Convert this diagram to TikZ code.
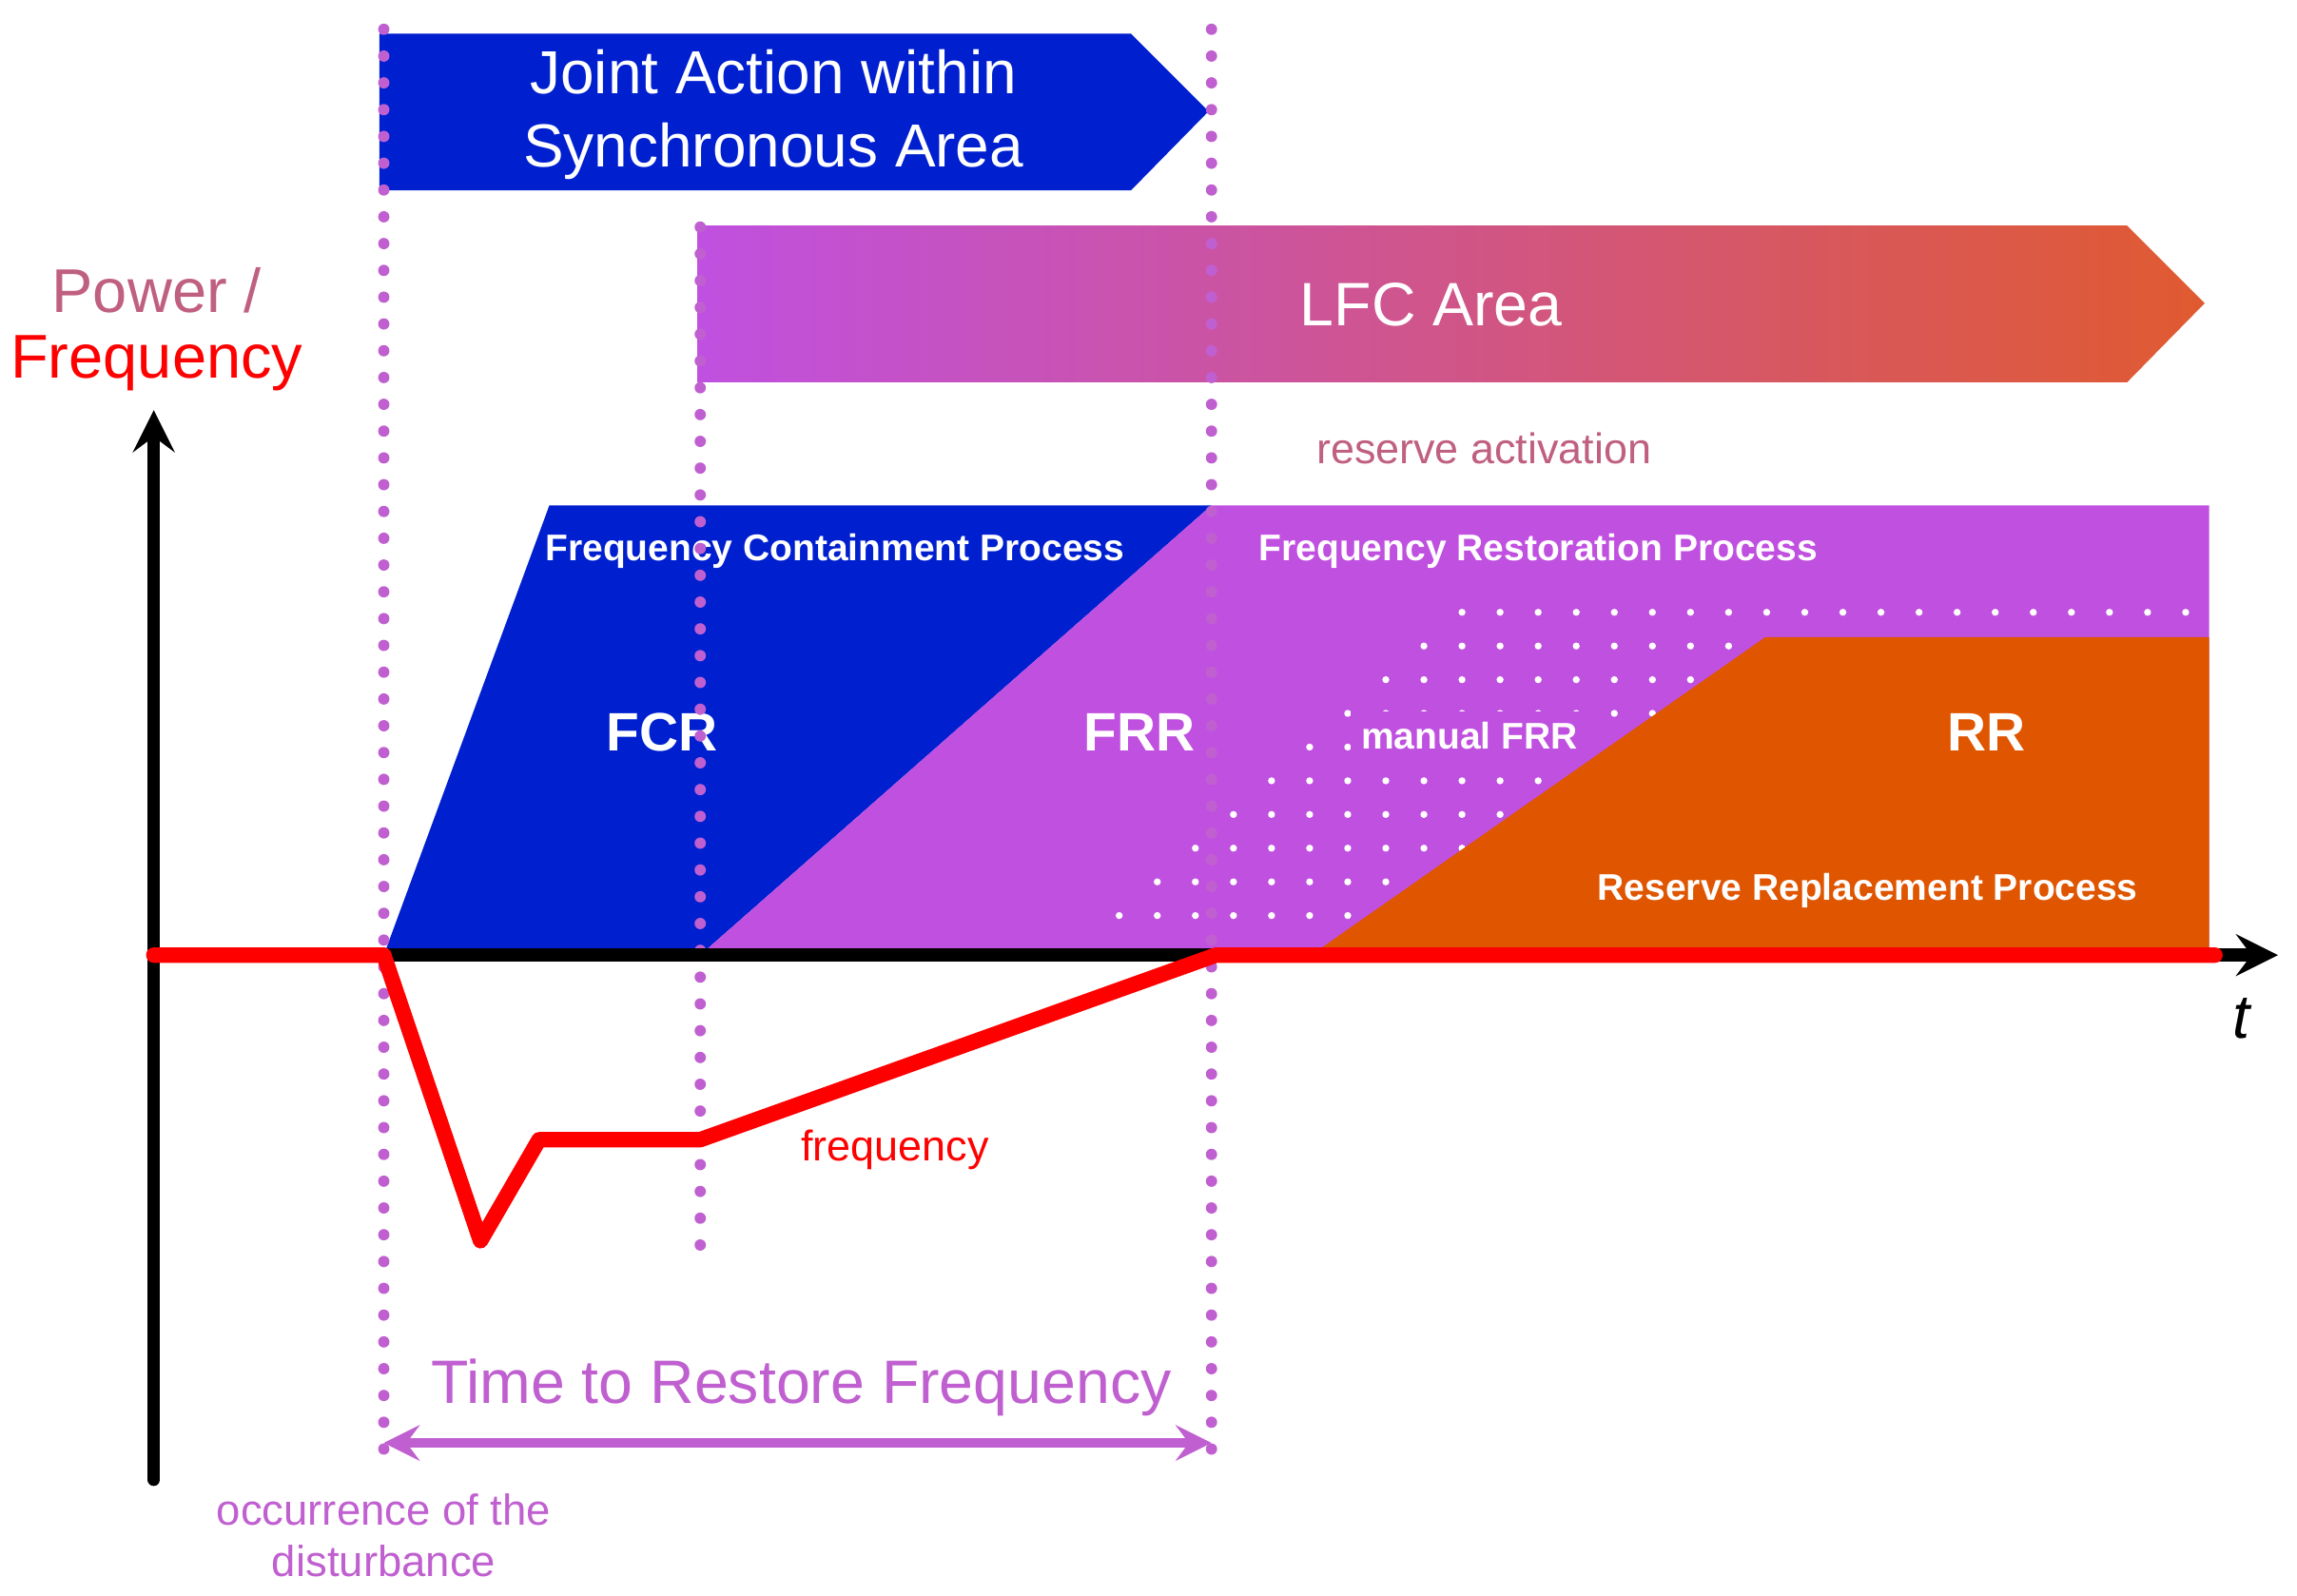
\documentclass[tikz,border=0pt]{standalone}
\usepackage{fontspec}
\setmainfont{Liberation Sans}
\usetikzlibrary{arrows}
\definecolor{jointblue}{HTML}{0020D0}
\definecolor{frrviolet}{HTML}{C050E0}
\definecolor{rrorange}{HTML}{E05500}
\definecolor{lfcorange}{HTML}{E05A30}
\definecolor{dotviolet}{HTML}{C060D0}
\definecolor{powerpink}{HTML}{C06080}
\tikzset{
  marker/.style={dotviolet, line width=2.2pt, dash pattern=on 0pt off 5.2pt, line cap=round},
  boxtext/.style={text=white, font=\bfseries\fontsize{7.2}{9}\selectfont},
  bigtext/.style={text=white, font=\bfseries\fontsize{10.5}{13}\selectfont},
  freq/.style={red, line width=3pt, line join=round}
}
\begin{document}
\begin{tikzpicture}[line cap=round,line join=round,>=stealth,x=0.01cm,y=-0.01cm]
	\useasboundingbox (0,0) rectangle (1568,1089);

	%Lohkot ylhaalla
	\fill[jointblue] (259,23)--(772,23)--(825,76)--(772,130)--(259,130)--cycle;
	\node[text=white, align=center, font=\fontsize{11.8}{14.2}\selectfont] (joint) at (528,78) {Joint Action within\\Synchronous Area};
	\shade[left color=frrviolet, right color=lfcorange] (476,154)--(1452,154)--(1505,207)--(1452,261)--(476,261)--cycle;
	\node[text=white, font=\fontsize{11.9}{14}\selectfont] (lfc) at (977,208) {LFC Area};

	%prosessit
	\fill[jointblue] (262,652)--(375,345)--(827,345)--(478,652)--cycle;
	\fill[frrviolet] (478,652)--(827,345)--(1508,345)--(1508,652)--cycle;
	\begin{scope}
		\clip (722,652)--(990,412)--(1508,412)--(1508,652)--cycle;
		\foreach \x in {738,764,...,1508}
		\foreach \y in {418,441,...,640}
		{\fill[white] (\x,\y) circle (2.4);}
	\end{scope}
	\fill[rrorange] (895,652)--(1205,435)--(1508,435)--(1508,652)--cycle;

	\node[boxtext] (fcp) at (570,376) {Frequency Containment Process};
	\node[boxtext] (frp) at (1050,376) {Frequency Restoration Process};
	\node[boxtext] (rrp) at (1275,608) {Reserve Replacement Process};
	\node[boxtext, fill=frrviolet, inner sep=2pt] (mfrr) at (1003,502) {manual FRR};
	\node[bigtext] (fcr) at (452,500) {FCR};
	\node[bigtext] (frr) at (778,500) {FRR};
	\node[bigtext] (rr) at (1356,500) {RR};
	\node[text=powerpink, font=\fontsize{8.3}{10}\selectfont] (act) at (1013,306) {reserve activation};

	%pystyviivat
	\draw[marker] (262,20)--(262,1000);
	\draw[marker] (478,155)--(478,860);
	\draw[marker] (827,20)--(827,1000);

	%akselit
	\draw[->, line width=2.5pt] (105,1010)--(105,280);
	\draw[->, line width=2.5pt] (105,652)--(1555,652);
	\node[font=\itshape\fontsize{12}{14}\selectfont] (t) at (1530,695) {t};
	\node[text=powerpink, font=\fontsize{12}{14}\selectfont] (power) at (107,198) {Power /};
	\node[text=red, font=\fontsize{12}{14}\selectfont] (freqlabel) at (107,248) {Frequency};

	%taajuus
	\draw[freq] (105,652)--(262,652)--(328,847)--(368,778)--(478,778)--(830,652)--(1512,652);
	\node[text=red, font=\fontsize{8.3}{10}\selectfont] (freqtext) at (611,785) {frequency};

	%palautusaika
	\coordinate (ts) at (262,985);
	\coordinate (te) at (827,985);
	\draw[<->, dotviolet, line width=2pt] (ts)--(te);
	\node[text=dotviolet, font=\fontsize{11.9}{14}\selectfont] (restore) at (547,947) {Time to Restore Frequency};
	\node[text=dotviolet, align=center, font=\fontsize{8.4}{10}\selectfont] (dist) at (262,1048) {occurrence of the\\disturbance};
\end{tikzpicture}
\end{document}
